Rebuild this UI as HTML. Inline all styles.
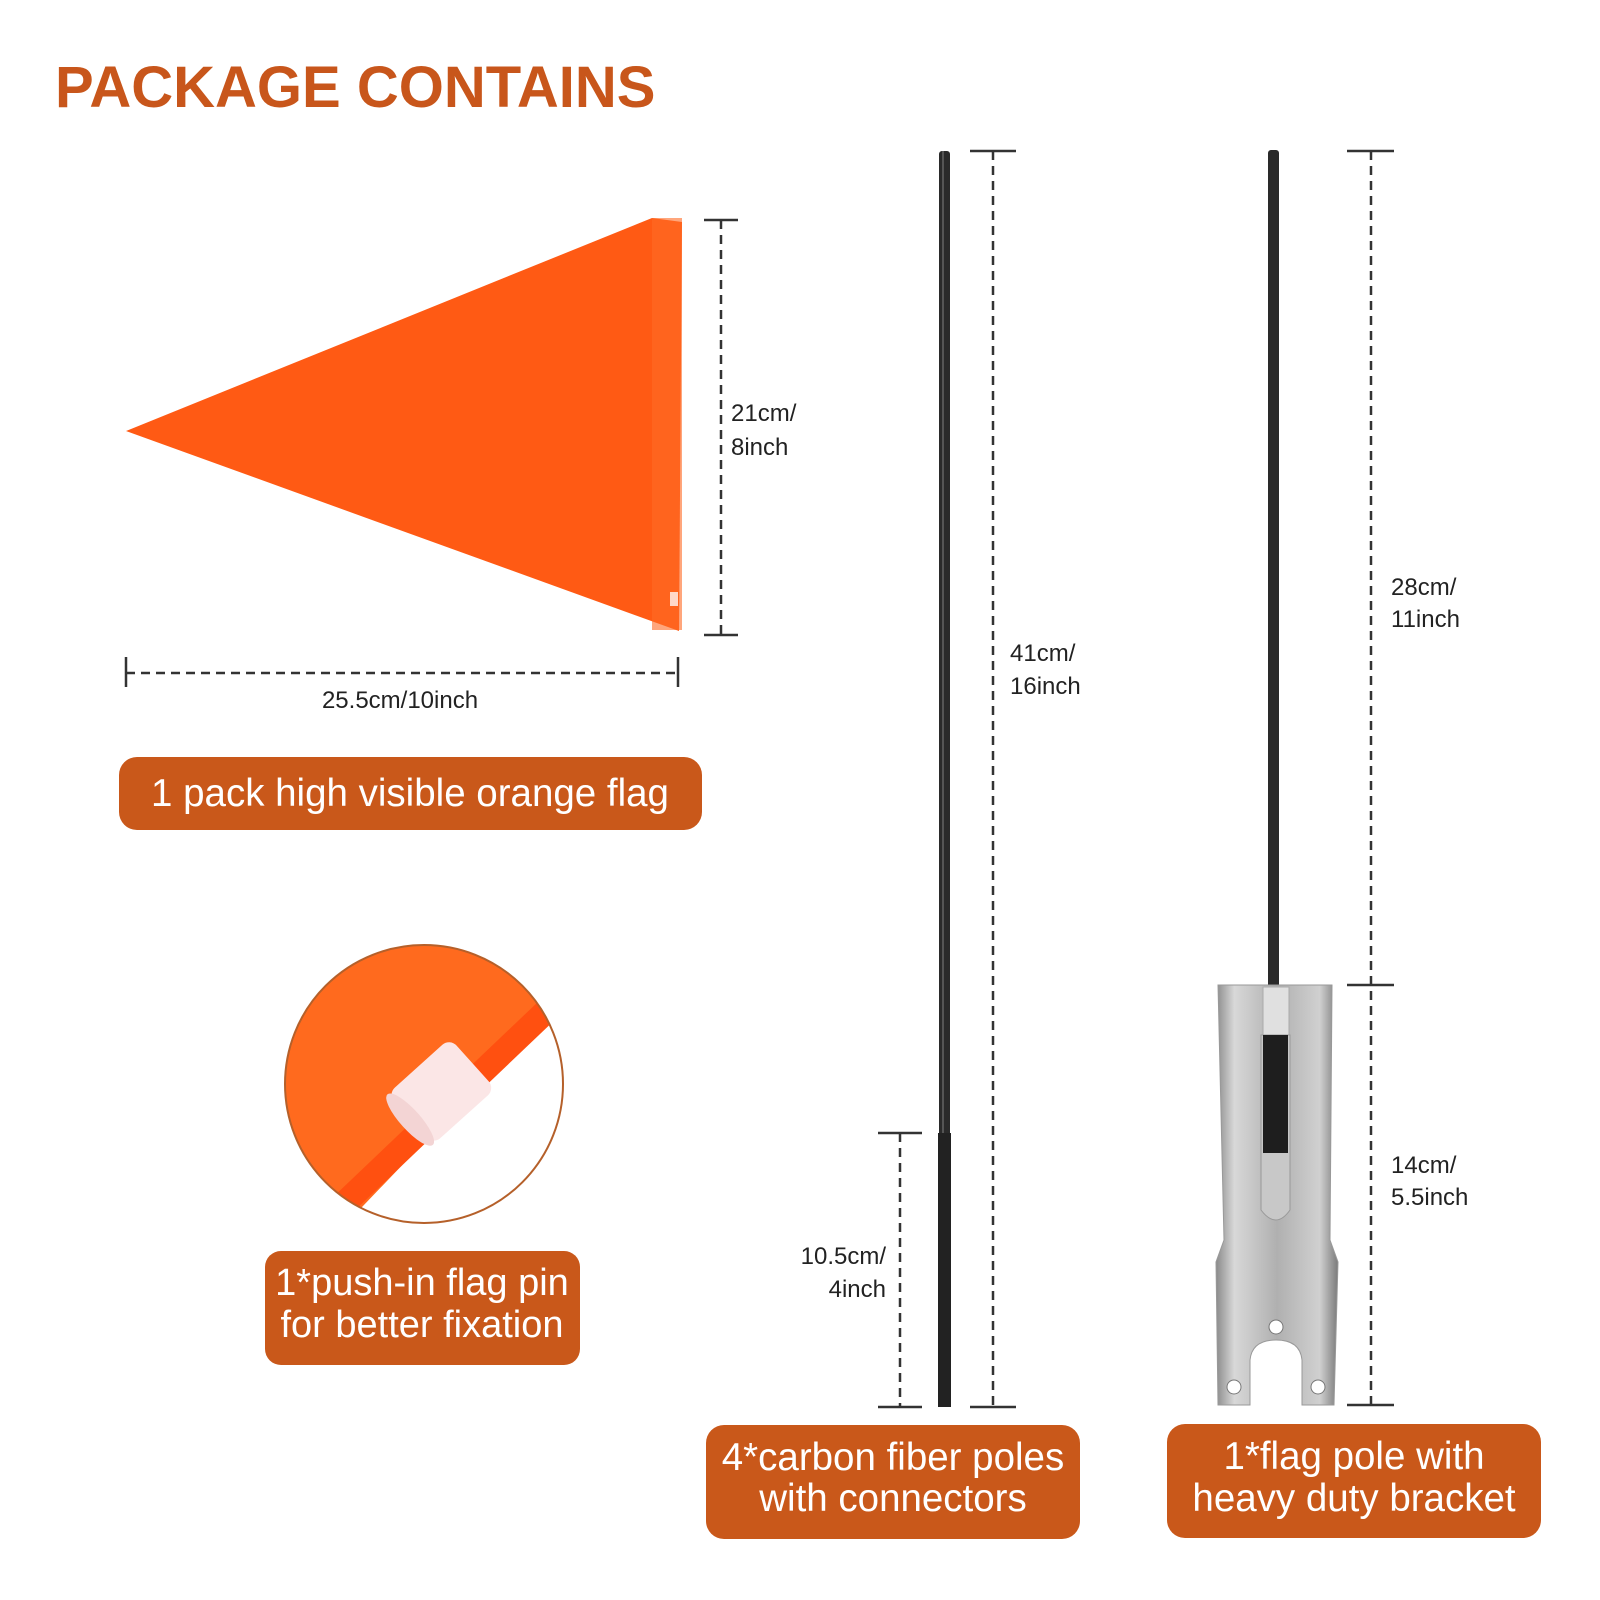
<!DOCTYPE html>
<html><head><meta charset="utf-8"><style>
html,body{margin:0;padding:0;background:#fff;}
svg{display:block}
text{font-family:"Liberation Sans",Arial,sans-serif;}
</style></head><body>
<svg width="1600" height="1600" viewBox="0 0 1600 1600">
<defs>
<clipPath id="cc"><circle cx="424" cy="1084" r="139"/></clipPath>
<linearGradient id="br" x1="0" x2="1" y1="0" y2="0">
<stop offset="0" stop-color="#8a8a8a"/><stop offset="0.15" stop-color="#d8d8d8"/><stop offset="0.5" stop-color="#b0b0b0"/><stop offset="0.85" stop-color="#d0d0d0"/><stop offset="1" stop-color="#7a7a7a"/>
</linearGradient>
</defs>
<text x="55" y="107" font-size="58" font-weight="bold" fill="#c8561b">PACKAGE CONTAINS</text>

<!-- flag -->
<polygon points="126,431 652,218 682,222 679,631" fill="#ff5a14"/>
<rect x="652" y="218" width="30" height="412" fill="#ff6a24" opacity="0.6"/>
<rect x="670" y="592" width="8" height="14" fill="#ffd8c8"/>
<g stroke="#333" stroke-width="2.5" fill="none">
<line x1="704" y1="220" x2="738" y2="220"/><line x1="704" y1="635" x2="738" y2="635"/>
<line x1="721" y1="220" x2="721" y2="635" stroke-dasharray="9,6"/>
<line x1="126" y1="657" x2="126" y2="687"/><line x1="678" y1="657" x2="678" y2="687"/>
<line x1="126" y1="673" x2="678" y2="673" stroke-dasharray="9,6"/>
</g>
<text x="731" y="421" font-size="24" fill="#222">21cm/</text>
<text x="731" y="455" font-size="24" fill="#222">8inch</text>
<text x="400" y="708" font-size="24" fill="#222" text-anchor="middle">25.5cm/10inch</text>

<rect x="119" y="757" width="583" height="73" rx="18" fill="#c9581a"/>
<text x="410" y="806" font-size="38.5" fill="#fff" text-anchor="middle">1 pack high visible orange flag</text>

<!-- circle -->
<g clip-path="url(#cc)">
<rect x="280" y="940" width="290" height="290" fill="#fff"/>
<polygon points="280,940 570,940 570,990 340,1230 280,1230" fill="#ff6a1e"/>
<polygon points="330,1200 540,1000 560,1015 350,1215" fill="#ff5010"/>
<g transform="rotate(-42 440 1090)">
<rect x="398" y="1058" width="84" height="68" rx="10" fill="#fbe6e6"/>
<ellipse cx="398" cy="1092" rx="10" ry="34" fill="#f3d4d4"/>
</g>
</g>
<circle cx="424" cy="1084" r="139" fill="none" stroke="#b5602a" stroke-width="2"/>

<rect x="265" y="1251" width="315" height="114" rx="16" fill="#c9581a"/>
<text x="422" y="1295" font-size="38" fill="#fff" text-anchor="middle">1*push-in flag pin</text>
<text x="422" y="1337" font-size="38" fill="#fff" text-anchor="middle">for better fixation</text>

<!-- pole 1 -->
<rect x="939" y="151" width="11" height="1256" rx="3" fill="#2a2a2a"/>
<rect x="942" y="151" width="2" height="1256" fill="#555"/>
<rect x="938" y="1133" width="13" height="274" fill="#222"/>
<g stroke="#333" stroke-width="2.5" fill="none">
<line x1="970" y1="151" x2="1016" y2="151"/><line x1="970" y1="1407" x2="1016" y2="1407"/>
<line x1="993" y1="151" x2="993" y2="1407" stroke-dasharray="9,6"/>
<line x1="878" y1="1133" x2="922" y2="1133"/><line x1="878" y1="1407" x2="922" y2="1407"/>
<line x1="900" y1="1133" x2="900" y2="1407" stroke-dasharray="9,6"/>
</g>
<text x="1010" y="661" font-size="24" fill="#222">41cm/</text>
<text x="1010" y="694" font-size="24" fill="#222">16inch</text>
<text x="886" y="1264" font-size="24" fill="#222" text-anchor="end">10.5cm/</text>
<text x="886" y="1297" font-size="24" fill="#222" text-anchor="end">4inch</text>

<rect x="706" y="1425" width="374" height="114" rx="18" fill="#c9581a"/>
<text x="893" y="1470" font-size="38.5" fill="#fff" text-anchor="middle">4*carbon fiber poles</text>
<text x="893" y="1511" font-size="38.5" fill="#fff" text-anchor="middle">with connectors</text>

<!-- pole 2 + bracket -->
<rect x="1268" y="150" width="11" height="840" rx="3" fill="#2a2a2a"/>
<path d="M1218,985 L1332,985 L1330,1240 L1338,1262 L1334,1405 L1302,1405 L1302,1360 Q1300,1340 1276,1340 Q1252,1340 1250,1360 L1250,1405 L1218,1405 L1216,1262 L1224,1240 Z" fill="url(#br)" stroke="#999"/>
<rect x="1263" y="987" width="26" height="48" fill="#e0e0e0" stroke="#aaa"/>
<path d="M1261,1035 L1290,1035 L1290,1210 Q1276,1230 1261,1210 Z" fill="#c8c8c8" stroke="#999"/>
<rect x="1263" y="1035" width="25" height="118" fill="#1e1e1e"/>
<circle cx="1276" cy="1327" r="7" fill="#fff" stroke="#777"/>
<circle cx="1234" cy="1387" r="7" fill="#fff" stroke="#777"/>
<circle cx="1318" cy="1387" r="7" fill="#fff" stroke="#777"/>
<g stroke="#333" stroke-width="2.5" fill="none">
<line x1="1347" y1="151" x2="1394" y2="151"/><line x1="1347" y1="985" x2="1394" y2="985"/>
<line x1="1347" y1="1405" x2="1394" y2="1405"/>
<line x1="1371" y1="151" x2="1371" y2="1405" stroke-dasharray="9,6"/>
</g>
<text x="1391" y="595" font-size="24" fill="#222">28cm/</text>
<text x="1391" y="627" font-size="24" fill="#222">11inch</text>
<text x="1391" y="1173" font-size="24" fill="#222">14cm/</text>
<text x="1391" y="1205" font-size="24" fill="#222">5.5inch</text>

<rect x="1167" y="1424" width="374" height="114" rx="18" fill="#c9581a"/>
<text x="1354" y="1469" font-size="38.5" fill="#fff" text-anchor="middle">1*flag pole with</text>
<text x="1354" y="1511" font-size="38.5" fill="#fff" text-anchor="middle">heavy duty bracket</text>
</svg>
</body></html>
